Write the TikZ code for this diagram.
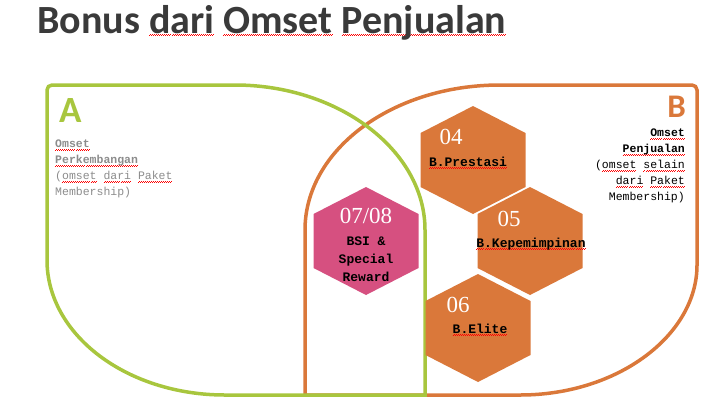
\documentclass[tikz,border=0pt]{standalone}
\usepackage{fontspec}
\setmainfont{Liberation Serif}
\setmonofont{Liberation Mono}
\newfontfamily\titlefont{Carlito}
\usetikzlibrary{positioning}

\definecolor{greenA}{RGB}{168,198,62}
\definecolor{orangeB}{RGB}{218,120,58}
\definecolor{pinkC}{RGB}{214,80,128}
\definecolor{grayA}{RGB}{140,140,140}
\definecolor{titlegray}{RGB}{58,58,58}

% red wavy line under a word
\newcommand\sq[1]{\setbox0\hbox{#1}\rlap{\textcolor{red}{\hbox to\wd0{\xleaders\hbox{\rule[-3pt]{1pt}{.8pt}\rule[-2.2pt]{1pt}{.8pt}}\hfil}}}\box0\relax}

\tikzset{
x=1pt, y=-1pt,
lineA/.style={draw=greenA, line width=3.5pt},
lineB/.style={draw=orangeB, line width=3.5pt},
num/.style={text=white, font=\fontsize{23}{23}\selectfont, inner sep=0pt, anchor=base},
lbl/.style={font=\ttfamily\bfseries\fontsize{13}{18}\selectfont, inner sep=0pt, anchor=base},
side/.style={font=\ttfamily\fontsize{11.5}{16}\selectfont, inner sep=0pt},
hexa/.pic={\fill[#1] (-52.5,-27) -- (0,-54) -- (52.5,-27) -- (52.5,27) -- (0,54) -- (-52.5,27) -- cycle;},
}

\begin{document}
\begin{tikzpicture}
    \useasboundingbox (0,0) rectangle (727,416);

    \node[font=\titlefont\bfseries\fontsize{40}{40}\selectfont, text=titlegray, anchor=base west, inner sep=0pt] (title) at (37,33) {Bonus \sq{dari} \sq{Omset} \sq{Penjualan}};

    % the two areas
    \draw[lineB] (305,395) -- (305,230) .. controls (305,150) and (392,85) .. (500,85)
        [rounded corners=5] -- (697,85) -- (697,260) [sharp corners]
        .. controls (697,335) and (618,395) .. (520,395) -- cycle;
    \draw[lineA] (47,260) [rounded corners=5] -- (47,85) -- (230,85) [sharp corners]
        .. controls (338,85) and (425,150) .. (425,230) -- (425,395) -- (225,395)
        .. controls (127,395) and (47,335) .. (47,260) -- cycle;

    \node[font=\titlefont\bfseries\fontsize{37}{37}\selectfont, text=greenA, anchor=base west, inner sep=0pt] (letA) at (59,122) {A};
    \node[font=\titlefont\bfseries\fontsize{33}{33}\selectfont, text=orangeB, anchor=base east, inner sep=0pt] (letB) at (686,117) {B};

    \node[side, text=grayA, align=left, anchor=north west] (txtA) at (55,140)
        {\bfseries\sq{Omset}\\ \bfseries\sq{Perkembangan}\\ (\sq{omset} \sq{dari} \sq{Paket}\\ Membership)};
    \node[side, align=right, anchor=north east] (txtB) at (685,129)
        {\bfseries\sq{Omset}\\ \bfseries\sq{Penjualan}\\ (\sq{omset} \sq{selain}\\ \sq{dari} \sq{Paket}\\ Membership)};

    % hexagons
    \pic at (473,160) {hexa=orangeB};
    \pic at (530,241) {hexa=orangeB};
    \pic at (478,328) {hexa=orangeB};
    \pic at (366,241) {hexa=pinkC};

    \node[num] (n4) at (451,144) {04};
    \node[lbl] (l4) at (468,166) {\sq{B.Prestasi}};
    \node[num] (n5) at (509,226) {05};
    \node[lbl] (l5) at (531,247) {\sq{B.Kepemimpinan}};
    \node[num] (n6) at (458,312) {06};
    \node[lbl] (l6) at (480,333) {\sq{B.Elite}};
    \node[num] (n7) at (366,223) {07/08};
    \node[lbl, align=center, anchor=north] (l7) at (366,237) {BSI \&\\Special\\Reward};
\end{tikzpicture}
\end{document}
